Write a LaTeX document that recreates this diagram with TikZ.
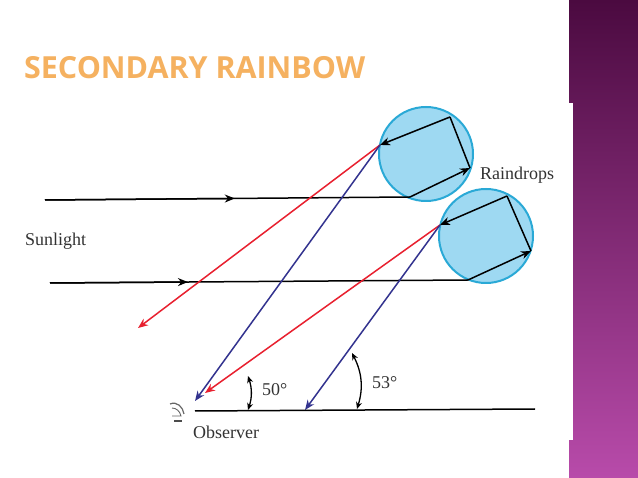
\documentclass[tikz,border=0pt]{standalone}
\usepackage{fontspec}
\setmainfont{Liberation Serif}
\newfontfamily\titlefont{Open Sans}
\usetikzlibrary{arrows.meta,calc}
\definecolor{dropfill}{HTML}{9ED9F2}
\definecolor{dropline}{HTML}{2AA9D6}
\definecolor{rayred}{HTML}{E8202F}
\definecolor{rayblue}{HTML}{33338F}
\definecolor{bandtop}{HTML}{4B0A40}
\definecolor{bandbot}{HTML}{B84BAA}
\definecolor{titleor}{HTML}{F5B160}
\begin{document}
\begin{tikzpicture}[x=1pt,y=-1pt,
  ray/.style={line width=1.5pt},
  tipray/.style={ray,-{Stealth[length=10pt,width=8pt]}},
  lab/.style={font=\fontsize{18}{20}\selectfont, text=black!80, inner sep=0pt},
  drop/.style={circle, draw=dropline, fill=dropfill, line width=2pt, minimum size=94pt, inner sep=0pt}]
\useasboundingbox (0,0) rectangle (638,478);
\fill[white] (0,0) rectangle (638,478);
% band
\shade[top color=bandtop, bottom color=bandbot] (569,0) rectangle (638,478);
\fill[white] (560,103) rectangle (573,440);
% title
\node[anchor=west, inner sep=0pt, font=\titlefont\bfseries\fontsize{31}{34}\selectfont, text=titleor] (title) at (24,68) {\resizebox{341pt}{!}{SECONDARY RAINBOW}};
% drops
\node[drop] (d1) at (426,154) {};
\node[drop] (d2) at (486,236) {};
% drop 1 internal path
\coordinate (a1) at (410,197);
\coordinate (b1) at (470,168);
\coordinate (c1) at (450,117);
\coordinate (e1) at (380,145);
\draw[tipray] (a1) -- (b1);
\draw[ray] (b1) -- (c1);
\draw[tipray] (c1) -- (e1);
% drop 2 internal path
\coordinate (a2) at (468,280);
\coordinate (b2) at (531,251);
\coordinate (c2) at (507,196);
\coordinate (e2) at (440,225);
\draw[tipray] (a2) -- (b2);
\draw[ray] (b2) -- (c2);
\draw[tipray] (c2) -- (e2);
% sunlight
\coordinate (s1) at (45,200);
\coordinate (s2) at (50,283);
\draw[ray] (s1) -- (a1);
\draw[tipray] (s1) -- ($(s1)!0.52!(a1)$);
\draw[ray] (s2) -- (a2);
\draw[tipray] (s2) -- ($(s2)!0.33!(a2)$);
% emerging rays
\coordinate (r1) at (138,328);
\coordinate (u1) at (195,401);
\coordinate (r2) at (205,393);
\coordinate (u2) at (305,410);
\draw[tipray, rayred] (e1) -- (r1);
\draw[tipray, rayblue] (e1) -- (u1);
\draw[tipray, rayred] (e2) -- (r2);
\draw[tipray, rayblue] (e2) -- (u2);
% ground
\coordinate (g0) at (195,411);
\coordinate (g1) at (535,409);
\draw[ray] (g0) -- (g1);
% angle arcs
\coordinate (p1) at (248,376);
\coordinate (q1) at (248,410);
\draw[line width=1.3pt, {Stealth[length=7pt,width=6pt]}-{Stealth[length=7pt,width=6pt]}] (p1) to[bend left=18] (q1);
\coordinate (p2) at (352,353);
\coordinate (q2) at (357,409);
\draw[line width=1.3pt, {Stealth[length=7pt,width=6pt]}-{Stealth[length=7pt,width=6pt]}] (p2) to[bend left=22] (q2);
% labels
\node[lab, anchor=west] (l50) at (262,390) {50°};
\node[lab, anchor=west] (l53) at (372,383) {53°};
\node[lab, anchor=west] (lrain) at (480,175) {Raindrops};
\node[lab, anchor=west] (lsun) at (25,241) {Sunlight};
\node[lab, anchor=west] (lobs) at (193,432) {Observer};
% eye icon
\draw[black!60, line width=1.2pt] (170,404) .. controls (177,401) and (183,407) .. (184,414);
\draw[black!60, line width=0.9pt] (172,408) .. controls (176,408) and (180,411) .. (181,416) -- (172,416);
\fill[black!70] (174,420) rectangle (182,422);
\end{tikzpicture}
\end{document}
